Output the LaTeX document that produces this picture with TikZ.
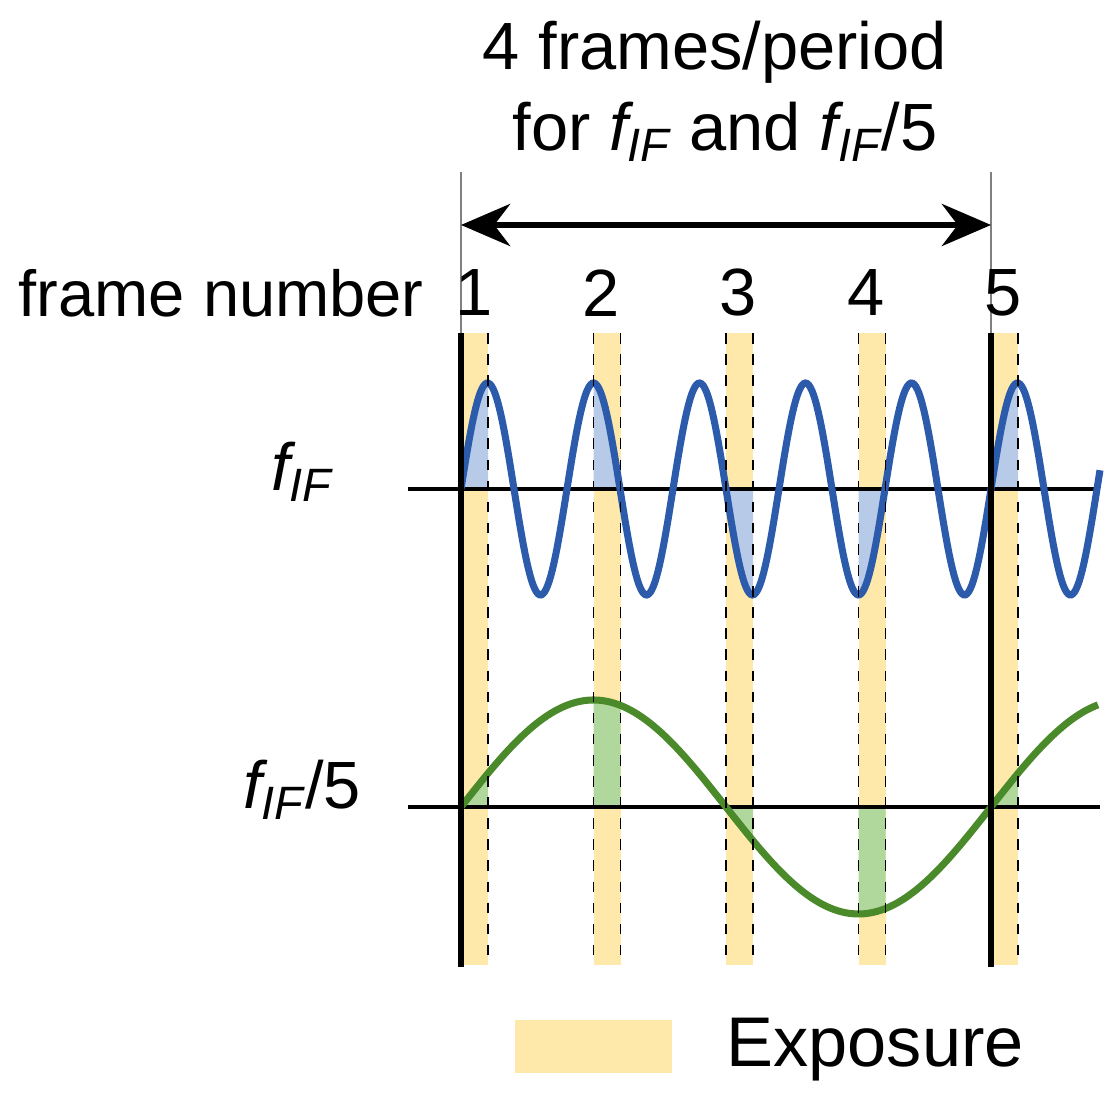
\documentclass[tikz,border=0pt]{standalone}
\usepackage{fontspec}
\setmainfont{Liberation Sans}
\usetikzlibrary{arrows.meta}
\definecolor{expo}{HTML}{FFE9AA}
\definecolor{bline}{HTML}{2B5BAA}
\definecolor{bfill}{HTML}{B7CBE8}
\definecolor{gline}{HTML}{4A8A2A}
\definecolor{gfill}{HTML}{B0D89C}
\tikzset{lbl/.style={font=\fontsize{19}{22}\selectfont,inner sep=0pt}}
\begin{document}
\begin{tikzpicture}[x=0.01cm,y=-0.01cm]
\useasboundingbox (0,0) rectangle (1117,1104);
\foreach \f in {461,593.5,726,858.5,991}{
  \fill[expo] (\f,333) rectangle (\f+27,965);
}
\foreach \f in {461,593.5,726,858.5,991}{
  \fill[bfill] (\f,489) -- plot[domain=\f:\f+27,samples=20] (\x,{489-106*sin(3.39623*(\x-461))}) -- (\f+27,489) -- cycle;
  \fill[gfill] (\f,807) -- plot[domain=\f:\f+27,samples=20] (\x,{807-107*sin(0.679245*(\x-461))}) -- (\f+27,807) -- cycle;
}
\draw[line width=1.2pt] (408,489) -- (1100,489);
\draw[line width=1.2pt] (408,807) -- (1100,807);
\draw[bline,line width=2pt] plot[domain=461:1100,samples=400] (\x,{489-106*sin(3.39623*(\x-461))});
\draw[gline,line width=2pt] plot[domain=461:1098,samples=200] (\x,{807-107*sin(0.679245*(\x-461))});
\foreach \f in {461,593.5,726,858.5,991}{
  \draw[dashed,line width=0.4pt] (\f+27,333) -- (\f+27,965);
}
\draw[dashed,line width=0.4pt] (593.5,333) -- (593.5,965);
\draw[dashed,line width=0.4pt] (726,333) -- (726,965);
\draw[dashed,line width=0.4pt] (858.5,333) -- (858.5,965);
\draw[line width=1.8pt] (461,333) -- (461,967);
\draw[line width=1.8pt] (991,333) -- (991,967);
\coordinate (aL) at (461,225);
\coordinate (aR) at (991,225);
\draw[gray,line width=0.4pt] (461,172) -- (461,333);
\draw[gray,line width=0.4pt] (991,172) -- (991,333);
\draw[line width=1.5pt,{Stealth[length=14pt,width=12pt]}-{Stealth[length=14pt,width=12pt]}] (aL) -- (aR);
\node[lbl] (t1) at (715,52) {4 frames/period};
\node[lbl] (t2) at (725,132) {for \textit{f\textsubscript{IF}} and \textit{f\textsubscript{IF}}/5};
\node[lbl,anchor=west,font=\fontsize{18.5}{22}\selectfont] (fn) at (18,293) {frame number};
\node[lbl] (n1) at (474,293) {1};
\node[lbl] (n2) at (601,293) {2};
\node[lbl] (n3) at (738,293) {3};
\node[lbl] (n4) at (866,293) {4};
\node[lbl] (n5) at (1003,293) {5};
\node[lbl] (fa) at (302,472) {\textit{f\textsubscript{IF}}};
\node[lbl] (fb) at (302,790) {\textit{f\textsubscript{IF}}/5};
\fill[expo] (515,1020) rectangle (672,1073);
\node[lbl,anchor=west,font=\fontsize{20}{22}\selectfont] (ex) at (726,1050) {Exposure};
\end{tikzpicture}
\end{document}
